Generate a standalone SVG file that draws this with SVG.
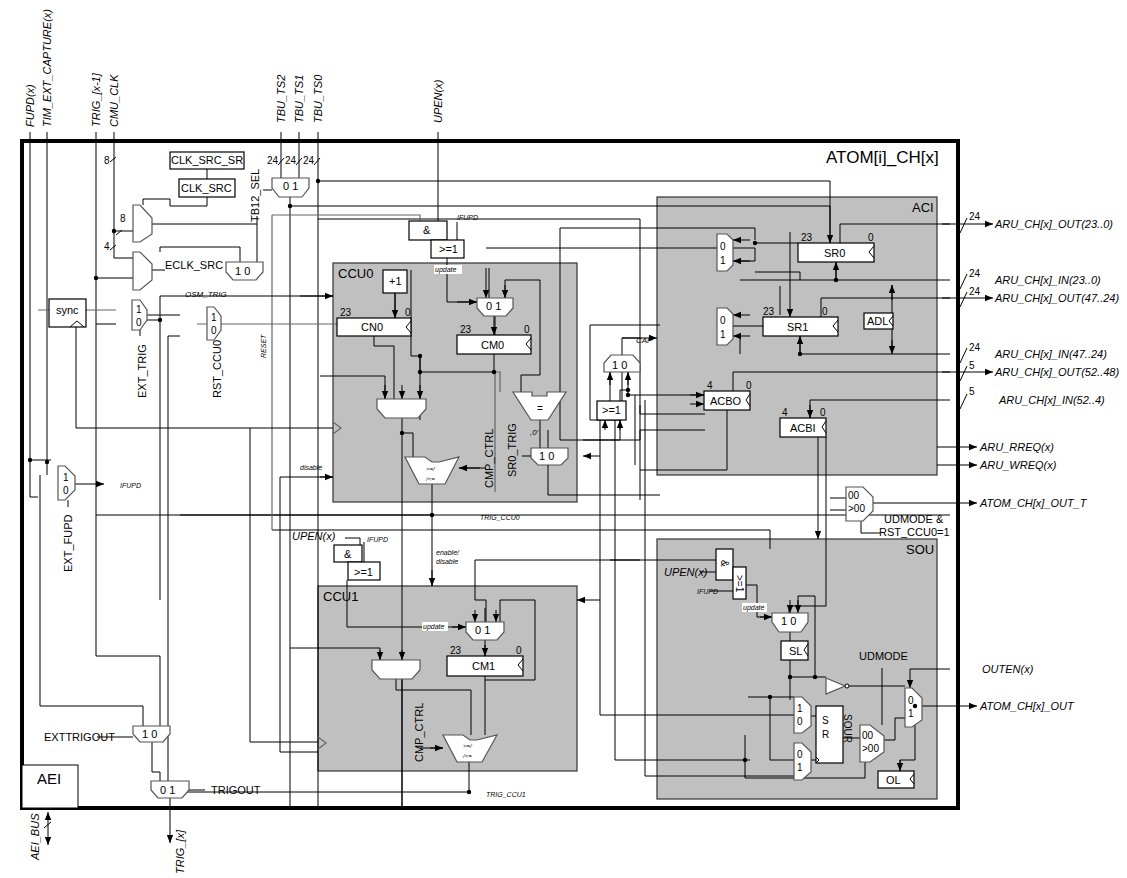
<svg xmlns="http://www.w3.org/2000/svg" width="1127" height="878" viewBox="0 0 1127 878">
<defs>
<marker id="a" viewBox="0 0 10 10" refX="10" refY="5" markerWidth="8" markerHeight="8" orient="auto-start-reverse"><path d="M0,1 L10,5 L0,9 z" fill="#000"/></marker>
</defs>
<style>
.w{fill:none;stroke:#000;stroke-width:1}
.g{fill:none;stroke:#666;stroke-width:1.2}
.bx{fill:#fff;stroke:#000;stroke-width:1.2}
.mx{fill:#fff;stroke:#555;stroke-width:1.2}
.blk{fill:#c0c0c0;stroke:#333;stroke-width:1.2}
text{font-family:"Liberation Sans",Arial,sans-serif;font-size:11px;fill:#000}
.l{font-size:11px;font-style:italic}
.sm{font-size:7px;font-style:italic}
.n{font-size:10px}
.d{fill:#000}
</style>
<rect width="1127" height="878" fill="#fff"/>
<g id="frame">
<rect x="22" y="141" width="936" height="667" fill="none" stroke="#000" stroke-width="4"/>
<text x="826" y="163" style="font-size:17px">ATOM[i]_CH[x]</text>
</g>
<g id="AEI"><rect x="22" y="765" width="56" height="43" fill="#fff" stroke="#000"/><text x="37" y="784" style="font-size:15px">AEI</text></g>
<g id="CCU0"><rect class="blk" x="333" y="263" width="244" height="239"/><text x="338" y="278" style="font-size:13px">CCU0</text></g>
<g id="CCU1"><rect class="blk" x="318" y="586" width="259" height="185"/><text x="323" y="601" style="font-size:13px">CCU1</text></g>
<g id="ACI"><rect class="blk" x="657" y="197" width="280" height="278"/><text x="912" y="212" style="font-size:13px">ACI</text></g>
<g id="SOU"><rect class="blk" x="657" y="539" width="280" height="260"/><text x="906" y="554" style="font-size:13px">SOU</text></g>

<g id="connectors">
<path class="w" d="M30,132V497H38M30,460H51"/>
<path class="w" d="M47,132V462M40,475V706H143V726M47,462V475"/>
<path class="w" d="M96,132V278H133M96,278V572H96V656H160V726"/>
<path class="w" d="M114,132V258M114,231H133M114,258H133"/>
<path class="w" d="M116,235l6,-5M110,250l6,-5M110,162l6,-5"/>
<path class="w" d="M281,132V178M299,132V178M318,132V808"/>
<path class="w" d="M278,165l6,-7M296,165l6,-7M314,165l6,-7"/>
<path class="w" d="M438,132V221"/>
<path class="w" d="M207,169V179M207,197V206H170V199H143V205M257,216V262M152,224H257M152,270H165M240,262V247H160V252"/>
<path class="w" d="M263,190H272M290,197V808M290,206H830V243M318,181H830M318,219H640V500"/>
<path class="g" d="M272,215V500M272,215H420V221"/>
<path class="w" d="M457,222V240M447,258V302H477M495,316V335M494,354V372H420"/>
<path class="w" d="M395,270V318M411,270V356H420V420M420,356V372M374,336V346H394V399"/>
<path class="g" d="M420,372H500V392M495,372V492"/>
<path class="w" d="M320,376H385V399M402,418V433H413V457M402,433V808"/>
<path class="w" d="M540,280V375H521V392M540,420V448M548,448V430M486,468H459M489,268V298"/>
<path class="w" d="M505,298V280H540"/>
<path class="w" d="M432,484V515M432,515H180M432,515V586"/>
<path class="g" d="M38,310H49M86,310H116M50,320V327"/>
<path class="w" d="M96,324H116M132,315H180M132,320H160V296H333M160,320V600"/>
<path class="g" d="M197,324H337"/>
<path class="w" d="M180,336H168V790"/>
<path class="w" d="M76,320V428H333"/>
<path class="w" d="M250,428V742H318"/>
<path class="w" d="M280,477V752H318M280,477H333"/>
<path class="w" d="M96,515H950M272,530H770V549"/>
<path class="g" d="M272,500V530"/>
<path class="w" d="M345,538H360V545M364,542V562M347,580V627H466M485,608V622M500,622V600H535V680H485M485,640V656M485,676V735M396,679V690H471V735M420,748H443M469,762V792H160V781"/>
<path class="w" d="M290,648H380V660M402,660V808"/>
<path class="w" d="M475,560V600H486V622M475,560H640"/>
<path class="w" d="M97,737H133M152,742V772H160V781M189,790H205"/>
<path class="w" d="M590,325H660M590,325V420H620M622,355V338H640M622,401V372M610,372V401M628,372V395H705M628,390H620V440H583"/>
<path class="w" d="M600,420V715H794M615,420V760H750M635,395V465M645,400V776H794"/>
<path class="w" d="M560,228V440H640V430H705"/>
<path class="w" d="M560,228H755V240"/>
<path class="w" d="M486,248H755V261M755,261H733"/>
<path class="w" d="M640,414H705M640,414V405"/>
<path class="w" d="M755,243H798M755,272H800V280M740,280H950M836,262V280M821,317V298H950M800,336V354H950M740,336V354M733,326H763M780,315V286"/>
<path class="w" d="M840,243V224H950M892,285V313M892,329V350"/>
<path class="w" d="M733,391V372H950M810,418V400H950M727,410V470H640"/>
<path class="w" d="M826,437V606H789V613M830,498H846M830,510H846M861,521V533H880"/>
<path class="w" d="M610,560H716M700,572H716M710,591H733M746,585H757V617H772M798,606V596H815V677H826M790,632V641M790,660V700M790,677H815"/>
<path class="w" d="M845,686H905M882,668V725M905,718H895V740H884M915,706V760H900V771M910,669H950"/>
<path class="w" d="M811,716H816M811,760H816M843,738H860M770,697V760H794M745,735V778H865V750H860M748,697H794"/>
<path class="w" d="M960,233l7,-15M960,289l7,-15M960,307l7,-15M960,363l7,-15M960,381l7,-15M960,409l7,-15"/>
<path class="w" d="M44,828l7,-6"/>
</g>
<g id="arrows">
<path class="w" marker-end="url(#a)" d="M942,224H993"/>
<path class="w" marker-end="url(#a)" d="M942,298H993"/>
<path class="w" marker-end="url(#a)" d="M942,372H993"/>
<path class="w" marker-end="url(#a)" d="M937,447H977"/>
<path class="w" marker-end="url(#a)" d="M937,465H977"/>
<path class="w" marker-end="url(#a)" d="M873,503H977"/>
<path class="w" marker-end="url(#a)" d="M922,706H977"/>
<path class="w" marker-end="url(#a)" d="M910,669V688"/>
<path class="w" marker-end="url(#a)" d="M75,484H104"/>
<path class="w" marker-end="url(#a)" d="M170,798V843"/>
<path class="w" marker-start="url(#a)" marker-end="url(#a)" d="M48,812V845"/>
<path class="w" marker-end="url(#a)" d="M300,296H333"/>
<path class="w" marker-end="url(#a)" d="M320,477H333"/>
<path class="w" marker-end="url(#a)" d="M395,292V318"/>
<path class="w" marker-end="url(#a)" d="M494,316V335"/>
<path class="w" marker-end="url(#a)" d="M457,302H477"/>
<path class="w" marker-end="url(#a)" d="M385,385V399"/>
<path class="w" marker-end="url(#a)" d="M402,385V399"/>
<path class="w" marker-end="url(#a)" d="M420,385V399"/>
<path class="w" marker-end="url(#a)" d="M486,268V298"/>
<path class="w" marker-end="url(#a)" d="M505,285V298"/>
<path class="w" marker-end="url(#a)" d="M480,468H459"/>
<path class="w" marker-end="url(#a)" d="M432,570V586"/>
<path class="w" marker-end="url(#a)" d="M452,627H466"/>
<path class="w" marker-end="url(#a)" d="M475,610V622"/>
<path class="w" marker-end="url(#a)" d="M496,610V622"/>
<path class="w" marker-end="url(#a)" d="M485,645V656"/>
<path class="w" marker-end="url(#a)" d="M380,650V660"/>
<path class="w" marker-end="url(#a)" d="M402,650V660"/>
<path class="w" marker-end="url(#a)" d="M430,748H443"/>
<path class="w" marker-end="url(#a)" d="M600,600H577"/>
<path class="w" marker-end="url(#a)" d="M600,456H583"/>
<path class="w" marker-end="url(#a)" d="M830,181V243"/>
<path class="w" marker-end="url(#a)" d="M790,232V317"/>
<path class="w" marker-end="url(#a)" d="M750,240H733"/>
<path class="w" marker-end="url(#a)" d="M750,261H733"/>
<path class="w" marker-end="url(#a)" d="M750,315H733"/>
<path class="w" marker-end="url(#a)" d="M750,336H733"/>
<path class="w" marker-end="url(#a)" d="M836,280V262"/>
<path class="w" marker-end="url(#a)" d="M800,354V336"/>
<path class="w" marker-end="url(#a)" d="M892,300V285"/>
<path class="w" marker-end="url(#a)" d="M892,340V354"/>
<path class="w" marker-end="url(#a)" d="M622,338H657"/>
<path class="w" marker-end="url(#a)" d="M610,385V372"/>
<path class="w" marker-end="url(#a)" d="M628,385V372"/>
<path class="w" marker-end="url(#a)" d="M605,430V420"/>
<path class="w" marker-end="url(#a)" d="M620,430V420"/>
<path class="w" marker-end="url(#a)" d="M690,395H704"/>
<path class="w" marker-end="url(#a)" d="M690,404H704"/>
<path class="w" marker-end="url(#a)" d="M810,405V418"/>
<path class="w" marker-end="url(#a)" d="M818,437V539"/>
<path class="w" marker-end="url(#a)" d="M760,617H772"/>
<path class="w" marker-end="url(#a)" d="M790,600V613"/>
<path class="w" marker-end="url(#a)" d="M798,600V613"/>
<path class="w" marker-end="url(#a)" d="M900,760V771"/>
</g>

<g id="clksrcsr"><rect class="bx" x="170" y="152" width="74" height="17"/><text x="171" y="164">CLK_SRC_SR</text></g>
<g id="clksrc"><rect class="bx" x="179" y="179" width="56" height="18"/><text x="181" y="192">CLK_SRC</text></g>
<g id="tb12"><polygon class="mx" points="272,178 309,178 309,188 302,197 279,197 272,188"/><text x="283" y="190">0  1</text><text transform="translate(259,222) rotate(-90)">TB12_SEL</text><text x="267" y="164" class="n">24</text><text x="285" y="164" class="n">24</text><text x="303" y="164" class="n">24</text></g>
<g id="mxa"><polygon class="mx" points="133,205 140,205 152,218 152,234 140,242 133,242"/><text x="120" y="222" class="n">8</text><text x="104" y="250" class="n">4</text><text x="104" y="164" class="n">8</text></g>
<g id="mxb"><polygon class="mx" points="133,252 140,252 152,264 152,280 140,290 133,290"/></g>
<g id="eclk"><text x="165" y="269">ECLK_SRC</text><polygon class="mx" points="226,262 263,262 263,272 256,280 233,280 226,272"/><text x="235" y="275">1  0</text></g>
<g id="and0"><rect class="bx" x="409" y="221" width="38" height="19"/><text x="423" y="234">&amp;</text></g>
<g id="or0"><rect class="bx" x="431" y="240" width="33" height="18"/><text x="439" y="253">&gt;=1</text><text x="457" y="220" class="sm">IFUPD</text><rect x="434" y="265" width="28" height="9" fill="#fff"/><text x="435" y="272" class="sm">update</text></g>
<g id="sync"><rect class="bx" x="49" y="299" width="37" height="28"/><text x="56" y="314">sync</text><path class="w" d="M70,327l7,-6 7,6"/></g>
<g id="exttrig"><polygon class="mx" points="132,300 140,300 147,310 147,320 140,330 132,330"/><text x="136" y="313" class="n">1</text><text x="136" y="326" class="n">0</text><path class="w" d="M140,330V336"/><text transform="translate(146,398) rotate(-90)">EXT_TRIG</text><text x="185" y="297" class="sm" style="font-size:8px">OSM_TRIG</text></g>
<g id="rstccu0"><polygon class="mx" points="207,307 214,307 221,316 221,330 214,340 207,340"/><text x="211" y="321" class="n">1</text><text x="211" y="334" class="n">0</text><text transform="translate(221,398) rotate(-90)">RST_CCU0</text><text transform="translate(266,358) rotate(-90)" class="sm">RESET</text></g>
<g id="ifupdmx"><polygon class="mx" points="58,466 65,466 75,476 75,490 65,500 58,500"/><text x="63" y="481" class="n">1</text><text x="63" y="494" class="n">0</text><path class="w" d="M68,500V507"/><text transform="translate(72,572) rotate(-90)">EXT_FUPD</text><text x="120" y="488" class="sm">IFUPD</text></g>
<text x="300" y="470" class="sm">disable</text>
<text x="480" y="520" class="sm">TRIG_CCU0</text>
<text x="486" y="797" class="sm">TRIG_CCU1</text>
<g id="and1"><text x="292" y="540" class="l">UPEN(x)</text><rect class="bx" x="334" y="545" width="28" height="17"/><text x="344" y="558">&amp;</text><rect class="bx" x="348" y="562" width="32" height="18"/><text x="354" y="576">&gt;=1</text><text x="367" y="542" class="sm">IFUPD</text><text x="436" y="555" class="sm">enable/</text><text x="436" y="564" class="sm">disable</text></g>
<g id="inc"><rect class="bx" x="383" y="270" width="24" height="23"/><text x="389" y="285">+1</text></g>
<g id="cn0"><rect class="bx" x="337" y="318" width="74" height="18"/><text x="361" y="331">CN0</text><path class="w" d="M411,321l-5,6 5,6"/><text x="340" y="316" class="n">23</text><text x="405" y="316" class="n">0</text></g>
<g id="mx01"><polygon class="mx" points="477,298 513,298 513,308 506,316 484,316 477,308"/><text x="486" y="310">0  1</text></g>
<g id="cm0"><rect class="bx" x="457" y="335" width="74" height="19"/><text x="481" y="349">CM0</text><path class="w" d="M531,338l-5,6 5,6"/><text x="460" y="333" class="n">23</text><text x="524" y="333" class="n">0</text></g>
<g id="cmp0"><polygon class="mx" points="377,399 426,399 426,409 418,418 385,418 377,409"/></g>
<g id="ge0"><polygon class="mx" points="405,457 425,457 432,462 439,462 459,457 445,484 419,484"/><text x="426" y="471" class="sm" style="font-size:6px">&gt;=/</text><text x="426" y="481" class="sm" style="font-size:6px">/&lt;=</text><text transform="translate(493,488) rotate(-90)">CMP_CTRL</text></g>
<g id="eq"><polygon class="mx" points="513,392 532,392 532,396 547,396 547,392 566,392 548,420 531,420"/><text x="537" y="412" class="n">=</text></g>
<g id="sr0trig"><polygon class="mx" points="531,448 568,448 568,458 561,465 538,465 531,458"/><text x="539" y="460">1  0</text><text x="530" y="435" class="sm" style="font-size:8px">,0'</text><text transform="translate(516,477) rotate(-90)">SR0_TRIG</text><path class="w" d="M531,456H522M548,465V495H660"/></g>
<path class="g" d="M333,422l8,6 -8,6M318,737l8,6 -8,6"/>
<g id="mx11"><polygon class="mx" points="466,622 504,622 504,632 497,640 473,640 466,632"/><text x="475" y="634">0  1</text><rect x="422" y="622" width="26" height="9" fill="#fff"/><text x="423" y="629" class="sm">update</text></g>
<g id="cm1"><rect class="bx" x="447" y="656" width="76" height="20"/><text x="472" y="670">CM1</text><path class="w" d="M523,659l-5,6 5,6"/><text x="450" y="654" class="n">23</text><text x="516" y="654" class="n">0</text></g>
<g id="cmp1"><polygon class="mx" points="372,660 420,660 420,670 412,679 380,679 372,670"/></g>
<g id="ge1"><polygon class="mx" points="443,735 463,735 470,740 477,740 497,735 482,762 457,762"/><text x="463" y="748" class="sm" style="font-size:6px">&gt;=/</text><text x="463" y="758" class="sm" style="font-size:6px">/&lt;=</text><text transform="translate(423,762) rotate(-90)">CMP_CTRL</text></g>
<g id="exttrigout"><text x="44" y="741">EXTTRIGOUT</text><polygon class="mx" points="133,726 170,726 170,734 163,742 140,742 133,734"/><text x="142" y="738">1  0</text></g>
<g id="trigout"><polygon class="mx" points="151,781 189,781 189,790 182,798 158,798 151,790"/><text x="160" y="794">0  1</text><text x="211" y="794">TRIGOUT</text></g>
<g id="mxs0"><polygon class="mx" points="717,234 727,234 733,240 733,265 727,271 717,271"/><text x="720" y="250" class="n">0</text><text x="720" y="264" class="n">1</text></g>
<g id="sr0"><rect class="bx" x="798" y="243" width="76" height="19"/><text x="824" y="257">SR0</text><path class="w" d="M874,246l-5,6 5,6"/><text x="801" y="241" class="n">23</text><text x="868" y="241" class="n">0</text></g>
<g id="mxs1"><polygon class="mx" points="717,308 727,308 733,314 733,339 727,345 717,345"/><text x="720" y="324" class="n">0</text><text x="720" y="338" class="n">1</text></g>
<g id="sr1"><rect class="bx" x="763" y="317" width="75" height="19"/><text x="787" y="331">SR1</text><path class="w" d="M838,320l-5,6 5,6"/><text x="763" y="315" class="n">23</text><text x="822" y="315" class="n">0</text></g>
<g id="adl"><rect class="bx" x="864" y="313" width="29" height="16"/><text x="867" y="325">ADL</text><path class="w" d="M893,316l-4,5 4,5"/></g>
<g id="acbo"><rect class="bx" x="704" y="391" width="46" height="19"/><text x="710" y="405">ACBO</text><path class="w" d="M750,394l-4,6 4,6"/><text x="707" y="389" class="n">4</text><text x="746" y="389" class="n">0</text></g>
<g id="acbi"><rect class="bx" x="780" y="418" width="46" height="19"/><text x="790" y="432">ACBI</text><path class="w" d="M826,421l-4,6 4,6"/><text x="782" y="416" class="n">4</text><text x="820" y="416" class="n">0</text></g>
<g id="capmx"><polygon class="mx" points="611,355 633,355 640,363 640,372 604,372 604,363"/><text x="612" y="369">1  0</text><text x="636" y="343" class="sm" style="font-size:8px">CAP</text></g>
<g id="or2"><rect class="bx" x="597" y="401" width="29" height="19"/><text x="602" y="414">&gt;=1</text></g>
<g id="rlabels">
<text x="969" y="220" class="n">24</text><text x="995" y="228" class="l">ARU_CH[x]_OUT(23..0)</text>
<text x="969" y="277" class="n">24</text><text x="995" y="284" class="l">ARU_CH[x]_IN(23..0)</text>
<text x="969" y="295" class="n">24</text><text x="995" y="302" class="l">ARU_CH[x]_OUT(47..24)</text>
<text x="969" y="351" class="n">24</text><text x="995" y="358" class="l">ARU_CH[x]_IN(47..24)</text>
<text x="969" y="369" class="n">5</text><text x="995" y="376" class="l">ARU_CH[x]_OUT(52..48)</text>
<text x="969" y="395" class="n">5</text><text x="999" y="404" class="l">ARU_CH[x]_IN(52..4)</text>
<text x="980" y="451" class="l">ARU_RREQ(x)</text>
<text x="980" y="469" class="l">ARU_WREQ(x)</text>
<text x="980" y="507" class="l">ATOM_CH[x]_OUT_T</text>
<text x="982" y="673" class="l">OUTEN(x)</text>
<text x="980" y="710" class="l">ATOM_CH[x]_OUT</text>
</g>
<g id="outt"><polygon class="mx" points="846,487 863,487 873,497 873,511 863,521 846,521"/><text x="848" y="499" class="n">00</text><text x="848" y="512" class="n">&gt;00</text><text x="884" y="523">UDMODE &amp;</text><text x="879" y="536">RST_CCU0=1</text></g>
<g id="and3"><rect class="bx" x="716" y="549" width="17" height="31"/><text transform="translate(721,560) rotate(90)" class="n">&amp;</text><rect class="bx" x="733" y="567" width="13" height="32"/><text transform="translate(736,575) rotate(90)" class="n">&gt;=1</text><text x="664" y="576" class="l">UPEN(x)</text><text x="697" y="594" class="sm">IFUPD</text><rect x="742" y="603" width="25" height="9" fill="#fff"/><text x="743" y="610" class="sm">update</text></g>
<g id="mxsl"><polygon class="mx" points="772,613 808,613 808,622 801,632 779,632 772,622"/><text x="781" y="625">1  0</text></g>
<g id="sl"><rect class="bx" x="781" y="641" width="27" height="19"/><text x="789" y="655">SL</text><path class="w" d="M808,644l-4,6 4,6"/></g>
<g id="inv"><polygon class="mx" points="826,678 845,686 826,694"/><circle cx="847" cy="686" r="2" fill="#fff" stroke="#000"/><text x="859" y="660">UDMODE</text></g>
<g id="mxo"><polygon class="mx" points="905,688 912,688 922,698 922,720 912,727 905,727"/><text x="908" y="704" class="n">0</text><text x="908" y="717" class="n">1</text></g>
<g id="mxa1"><polygon class="mx" points="794,697 802,697 811,706 811,726 802,733 794,733"/><text x="797" y="712" class="n">1</text><text x="797" y="725" class="n">0</text></g>
<g id="mxa2"><polygon class="mx" points="794,743 802,743 811,752 811,772 802,780 794,780"/><text x="797" y="758" class="n">0</text><text x="797" y="771" class="n">1</text></g>
<g id="sour"><rect class="bx" x="816" y="706" width="27" height="57"/><text x="822" y="724" class="n">S</text><text x="822" y="738" class="n">R</text><text transform="translate(844,714) rotate(90)" class="n">SOUR</text><path class="w" d="M816,757l3,3 -3,3"/></g>
<g id="sel"><polygon class="mx" points="860,725 870,725 884,736 884,752 870,762 860,762"/><text x="862" y="739" class="n">00</text><text x="862" y="752" class="n">&gt;00</text></g>
<g id="ol"><rect class="bx" x="878" y="771" width="36" height="17"/><text x="886" y="784">OL</text><path class="w" d="M914,774l-4,5 4,5"/></g>
<g id="toplabels">
<text transform="translate(34,127) rotate(-90)" class="l">FUPD(x)</text>
<text transform="translate(51,127) rotate(-90)" class="l">TIM_EXT_CAPTURE(x)</text>
<text transform="translate(100,127) rotate(-90)" class="l">TRIG_[x-1]</text>
<text transform="translate(118,127) rotate(-90)" class="l">CMU_CLK</text>
<text transform="translate(285,123) rotate(-90)" class="l">TBU_TS2</text>
<text transform="translate(303,123) rotate(-90)" class="l">TBU_TS1</text>
<text transform="translate(322,123) rotate(-90)" class="l">TBU_TS0</text>
<text transform="translate(442,123) rotate(-90)" class="l">UPEN(x)</text>
<text transform="translate(39,860) rotate(-90)" class="l">AEI_BUS</text>
<text transform="translate(184,874) rotate(-90)" class="l">TRIG_[x]</text>
</g>
<g id="dots" class="d">
<circle cx="290" cy="206" r="2.2"/><circle cx="318" cy="181" r="2.2"/><circle cx="114" cy="231" r="2.2"/><circle cx="96" cy="278" r="2.2"/>
<circle cx="160" cy="320" r="2.2"/><circle cx="420" cy="356" r="2.2"/><circle cx="420" cy="372" r="2.2"/><circle cx="494" cy="372" r="2.2"/>
<circle cx="402" cy="433" r="2.2"/><circle cx="432" cy="515" r="2.2"/><circle cx="755" cy="243" r="2.2"/><circle cx="836" cy="280" r="2.2"/>
<circle cx="800" cy="354" r="2.2"/><circle cx="628" cy="395" r="2.2"/><circle cx="628" cy="390" r="2.2"/><circle cx="790" cy="677" r="2.2"/>
<circle cx="815" cy="677" r="2.2"/><circle cx="770" cy="697" r="2.2"/><circle cx="915" cy="706" r="2.2"/><circle cx="745" cy="760" r="2.2"/>
<circle cx="469" cy="792" r="2.2"/><circle cx="47" cy="462" r="2.2"/><circle cx="30" cy="460" r="2.2"/>
</g>
</svg>
